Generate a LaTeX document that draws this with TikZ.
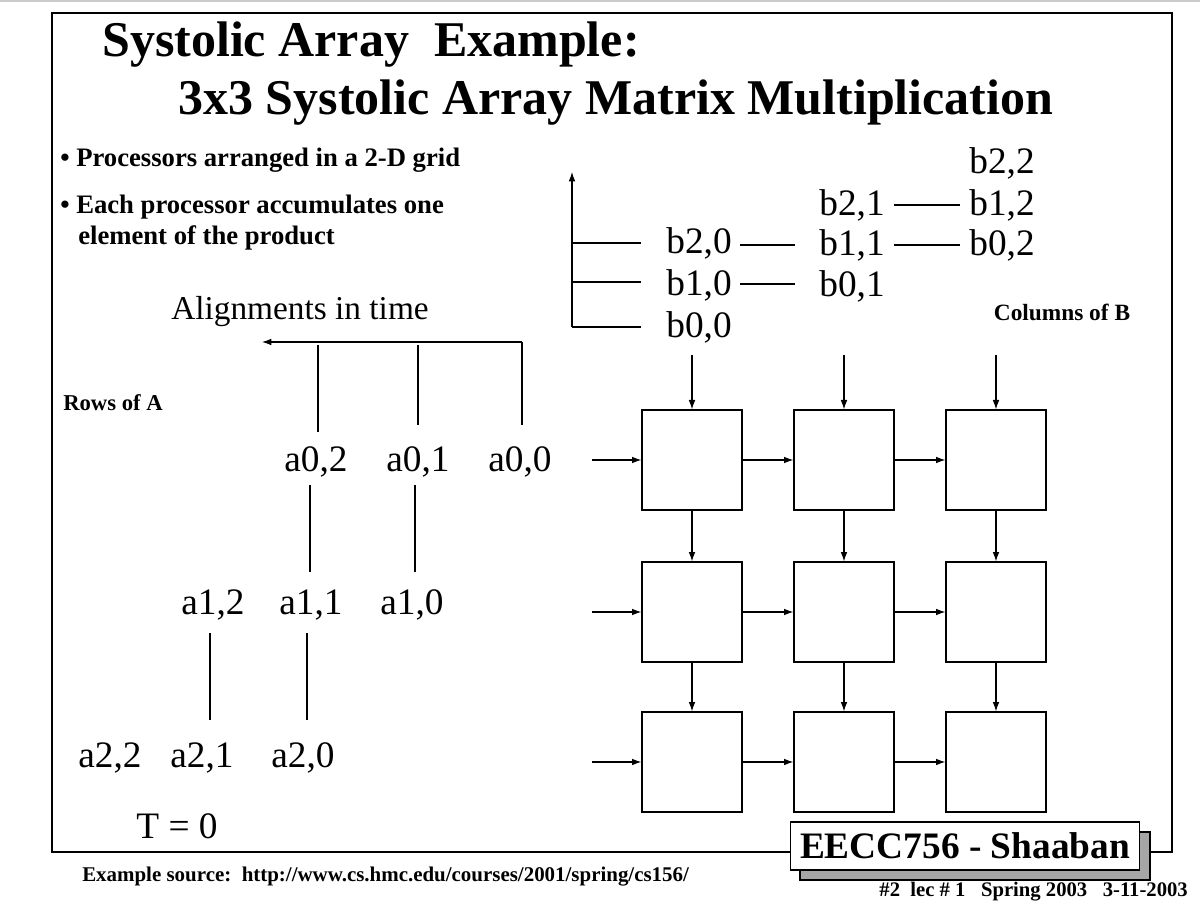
\documentclass[tikz,border=0pt]{standalone}
\usepackage{fontspec}
\setmainfont{Liberation Serif}
\usetikzlibrary{arrows.meta}
\begin{document}
\begin{tikzpicture}[x=0.75pt,y=-0.75pt,
  pe/.style={draw,line width=1pt,minimum width=75pt,minimum height=75pt,inner sep=0pt},
  lab/.style={font=\fontsize{28}{30}\selectfont,inner sep=0pt},
  ar/.style={-{Latex[length=7pt,width=5pt]},line width=0.8pt},
  ln/.style={line width=0.8pt},
  bl/.style={font=\bfseries\fontsize{20}{22}\selectfont,anchor=west,align=left,inner sep=0pt}]
\useasboundingbox (0,0) rectangle (1200,905);
\fill[white] (0,0) rectangle (1200,905);
\draw[gray!40,line width=0.8pt] (0,1) -- (1200,1);
% frame
\draw[line width=2.2pt] (790,852) -- (52,852) -- (52,13) -- (1172,13) -- (1172,852) -- (1140,852);
\fill[gray!70] (800,832) rectangle (1150,880);
\draw[line width=0.8pt] (800,832) rectangle (1150,880);
\node[draw,fill=white,line width=0.8pt,minimum width=262pt,minimum height=36pt,inner sep=0pt,font=\bfseries\fontsize{28}{30}\selectfont] (eecc) at (965,846) {EECC756 - Shaaban};
\node[font=\bfseries\fontsize{15.5}{17}\selectfont,anchor=east,inner sep=0pt] (foot) at (1188,892) {\#2\ \ lec \# 1\ \ \ Spring 2003\ \ \ 3-11-2003};
\node[font=\bfseries\fontsize{15.7}{17}\selectfont,anchor=west,inner sep=0pt] (src) at (82,877) {Example source:\ \ http://www.cs.hmc.edu/courses/2001/spring/cs156/};
% title
\node[font=\bfseries\fontsize{37.5}{40}\selectfont,anchor=west,inner sep=0pt] (t1) at (102,45) {Systolic Array\ \ Example:};
\node[font=\bfseries\fontsize{37.5}{40}\selectfont,anchor=west,inner sep=0pt] (t2) at (178,103) {3x3 Systolic Array Matrix Multiplication};
\node[bl] (b1) at (60,160) {• Processors arranged in a 2-D grid};
\node[bl] (b2) at (60,207) {• Each processor accumulates one};
\node[bl] (b3) at (78,238) {element of the product};
\node[font=\bfseries\fontsize{17}{19}\selectfont,inner sep=0pt] (rowsA) at (113,403) {Rows of A};
\node[font=\bfseries\fontsize{17.5}{19}\selectfont,inner sep=0pt] (colsB) at (1062,312) {Columns of B};
\node[font=\fontsize{25}{27}\selectfont,inner sep=0pt] (align) at (300,312) {Alignments in time};
% grid
\foreach \c/\x in {0/692,1/844,2/996}{
  \foreach \r/\y in {0/460,1/612,2/762}{
    \node[pe] (p\r\c) at (\x,\y) {};
  }
  \coordinate (top\c) at (\x,355);
  \draw[ar] (top\c) -- (p0\c.north);
  \draw[ar] (p0\c.south) -- (p1\c.north);
  \draw[ar] (p1\c.south) -- (p2\c.north);
}
\foreach \r/\y in {0/460,1/612,2/762}{
  \coordinate (in\r) at (592,\y);
  \draw[ar] (in\r) -- (p\r0.west);
  \draw[ar] (p\r0.east) -- (p\r1.west);
  \draw[ar] (p\r1.east) -- (p\r2.west);
}
% B
\node[lab] (b20) at (699,243) {b2,0};
\node[lab] (b10) at (699,285) {b1,0};
\node[lab] (b00) at (699,327) {b0,0};
\node[lab] (b21) at (852,205) {b2,1};
\node[lab] (b11) at (852,245) {b1,1};
\node[lab] (b01) at (852,286) {b0,1};
\node[lab] (b22) at (1002,163) {b2,2};
\node[lab] (b12) at (1002,205) {b1,2};
\node[lab] (b02) at (1002,245) {b0,2};
\coordinate (ax0) at (572,327);
\coordinate (ax1) at (572,172);
\draw[ar] (ax0) -- (ax1);
\draw[ln] (572,243) -- (641,243);
\draw[ln] (572,282) -- (641,282);
\draw[ln] (572,327) -- (641,327);
\draw[ln] (740,245) -- (795,245);
\draw[ln] (740,284) -- (795,284);
\draw[ln] (894,205) -- (960,205);
\draw[ln] (894,245) -- (960,245);
% A
\node[lab] (a02) at (316,462) {a0,2};
\node[lab] (a01) at (418,462) {a0,1};
\node[lab] (a00) at (520,462) {a0,0};
\node[lab] (a12) at (213,605) {a1,2};
\node[lab] (a11) at (311,605) {a1,1};
\node[lab] (a10) at (412,605) {a1,0};
\node[lab] (a22) at (110,758) {a2,2};
\node[lab] (a21) at (202,758) {a2,1};
\node[lab] (a20) at (303,758) {a2,0};
\node[lab] (T) at (177,826) {T = 0};
\coordinate (h0) at (522,425);
\coordinate (h1) at (262,342);
\draw[ln] (h0) -- (522,342);
\draw[ar] (522,342) -- (h1);
\draw[ln] (418,345) -- (418,425);
\draw[ln] (318,345) -- (318,432);
\draw[ln] (310,485) -- (310,572);
\draw[ln] (415,485) -- (415,572);
\draw[ln] (210,633) -- (210,720);
\draw[ln] (307,633) -- (307,720);
\end{tikzpicture}
\end{document}
